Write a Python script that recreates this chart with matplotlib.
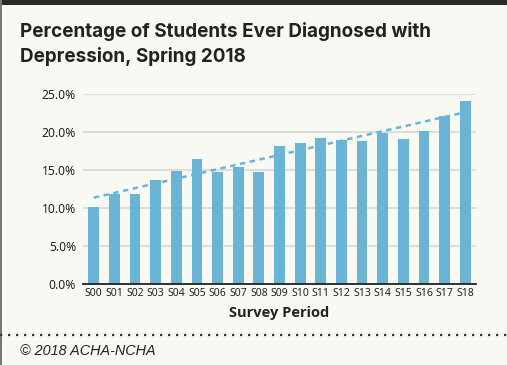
import matplotlib
matplotlib.use("Agg")
import matplotlib.pyplot as plt
import numpy as np
from matplotlib.lines import Line2D
from matplotlib.patches import Rectangle

periods = ["S00", "S01", "S02", "S03", "S04", "S05", "S06", "S07", "S08", "S09",
           "S10", "S11", "S12", "S13", "S14", "S15", "S16", "S17", "S18"]
values = [10.1, 11.9, 11.9, 13.7, 14.9, 16.4, 14.7, 15.4, 14.8, 18.1,
          18.5, 19.2, 19.0, 18.8, 19.9, 19.1, 20.1, 22.1, 24.1]
yticks = [0, 5, 10, 15, 20, 25]
ytick_labels = ["0.0%", "5.0%", "10.0%", "15.0%", "20.0%", "25.0%"]

BG = "#f9f9f4"
BAR = "#6ab4d6"

fig = plt.figure(figsize=(5.07, 3.65), dpi=100)
fig.patch.set_facecolor(BG)

ax = fig.add_axes([83/507, 1-284/365, (476-83)/507, (284-94)/365])
ax.set_facecolor(BG)
x = np.arange(len(periods))
ax.bar(x, values, width=0.52, color=BAR, zorder=3)
coef = np.polyfit(x, values, 1)
ax.plot(x, np.polyval(coef, x), color=BAR, lw=1.8, ls=(0, (2.2, 1.8)), zorder=4)

ax.set_xlim(-0.52, 18.52)
ax.set_ylim(0, 25)
ax.set_yticks(yticks)
ax.set_yticklabels(ytick_labels, fontsize=8.7, family="Noto Sans", color="#222222")
ax.set_xticks(x)
ax.set_xticklabels(periods, fontsize=7.5, family="Noto Sans", color="#222222")
ax.tick_params(axis="both", length=0)
ax.tick_params(axis="y", pad=5)
ax.tick_params(axis="x", pad=3)
ax.grid(axis="y", color="#d8d8d8", lw=1.2, zorder=0)
for s in ["top", "right", "left"]:
    ax.spines[s].set_visible(False)
ax.spines["bottom"].set_color("#222222")
ax.spines["bottom"].set_linewidth(1.3)
ax.spines["bottom"].set_zorder(5)

ax.set_xlabel("Survey Period", fontsize=10.5, family="Open Sans", fontweight="bold",
              color="#222222", labelpad=5)

fig.text(20/507, 1-44/365, "Percentage of Students Ever Diagnosed with\nDepression, Spring 2018",
         fontsize=13.6, family="Inter", fontweight="bold", color="#222222",
         va="center", ha="left", linespacing=1.35)

fig.text(20/507, 1-351/365, "© 2018 ACHA-NCHA", fontsize=10.4, family="Liberation Sans",
         style="italic", color="#222222", va="center", ha="left")

# dotted separator
fig.add_artist(Line2D([0, 1], [1-335/365, 1-335/365], transform=fig.transFigure,
                      color="#333333", lw=1.6, ls=(0, (1, 2.6))))
# top dark bar
fig.add_artist(Rectangle((0, 1-5/365), 1, 5/365, transform=fig.transFigure,
                         color="#2b2b2b", lw=0))
# left border
fig.add_artist(Rectangle((0, 0), 2/507, 1, transform=fig.transFigure,
                         color="#777777", lw=0))

fig.savefig("out.png", dpi=100, facecolor=BG)
